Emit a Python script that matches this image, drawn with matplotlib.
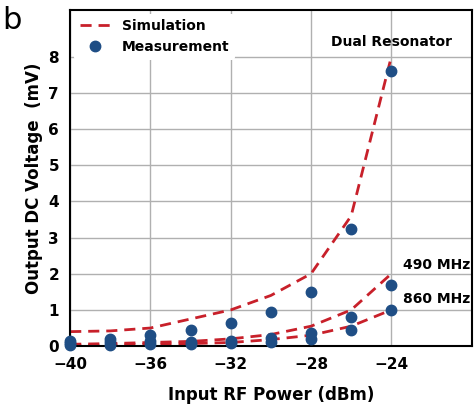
import matplotlib.pyplot as plt

# === DATA ===
power = [-40, -38, -36, -34, -32, -30, -28, -26, -24]
sim_dual = [0.40, 0.42, 0.50, 0.75, 1.00, 1.40, 2.00, 3.60, 8.00]
sim_490 = [0.05, 0.07, 0.10, 0.13, 0.20, 0.32, 0.55, 1.00, 2.00]
sim_860 = [0.02, 0.03, 0.05, 0.07, 0.10, 0.18, 0.30, 0.55, 1.00]
meas_dual = [0.15, 0.20, 0.30, 0.45, 0.65, 0.95, 1.50, 3.25, 7.60]
meas_490 = [0.08, 0.12, 0.15, 0.12, 0.15, 0.22, 0.35, 0.80, 1.70]
meas_860 = [0.02, 0.03, 0.05, 0.05, 0.08, 0.12, 0.20, 0.45, 1.00]

red = "#c8202a"
blue = "#1f4e85"

fig = plt.figure(figsize=(4.74, 4.18), dpi=100)
ax = fig.add_axes([0.148, 0.172, 0.847, 0.805])

for i, s in enumerate([sim_dual, sim_490, sim_860]):
    ax.plot(power, s, "--", color=red, lw=2, dashes=(4, 2.5),
            label="Simulation" if i == 0 else None)
for i, m in enumerate([meas_dual, meas_490, meas_860]):
    ax.plot(power, m, "o", color=blue, ms=7.5, ls="none", clip_on=False,
            label="Measurement" if i == 0 else None, zorder=3)

ax.set_xlim(-40, -20)
ax.set_ylim(0, 9.3)
ax.set_xticks([-40, -36, -32, -28, -24])
ax.set_yticks(range(0, 9))
ax.grid(True, color="#b0b0b0", lw=1)
ax.tick_params(labelsize=11, length=0, pad=8)
for lbl in ax.get_xticklabels() + ax.get_yticklabels():
    lbl.set_fontweight("bold")
for sp in ax.spines.values():
    sp.set_linewidth(1.5)

ax.set_xlabel("Input RF Power (dBm)", fontsize=12, fontweight="bold", labelpad=10)
ax.set_ylabel("Output DC Voltage  (mV)", fontsize=12, fontweight="bold")

ax.text(-24, 8.3, "Dual Resonator", fontsize=10, fontweight="bold", ha="center")
ax.text(-23.4, 2.25, "490 MHz", fontsize=10, fontweight="bold", va="center")
ax.text(-23.4, 1.3, "860 MHz", fontsize=10, fontweight="bold", va="center")

leg = ax.legend(loc="upper left", fontsize=10, frameon=True, framealpha=1,
                edgecolor="none", borderaxespad=0.3, handlelength=2.2)
for t in leg.get_texts():
    t.set_fontweight("bold")

fig.text(0.005, 0.985, "b", fontsize=22, va="top")

fig.savefig("out.png", dpi=100)
